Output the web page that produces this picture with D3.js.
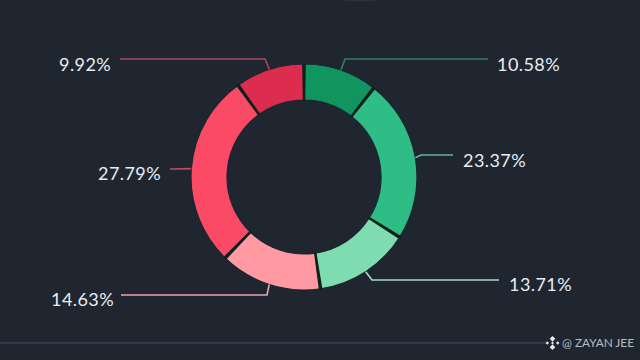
<!DOCTYPE html>
<html>
<head>
<meta charset="utf-8">
<script src="https://cdn.jsdelivr.net/npm/d3@7"></script>
<style>
  html, body { margin: 0; padding: 0; background: #1f2630; }
  svg { display: block; }
</style>
</head>
<body>
<div id="chart"></div>
<script>
const labels = ["10.58%", "23.37%", "13.71%", "14.63%", "27.79%", "9.92%"];
const values = [10.58, 23.37, 13.71, 14.63, 27.79, 9.92];
const colors = ["#10955f", "#2ebd85", "#7fdcb0", "#ff9aa2", "#fb4a65", "#dc2d4e"];
const lineColors = ["#2f8068", "#5fb597", "#a5dcc4", "#eba4aa", "#c9485f", "#b2465c"];

// where each leader line goes after leaving the ring
const elbowX = [345, 421, 372, 267, 172, 265];
const elbowY = [59, 155, 280, 295, 169, 59];
const lineEndX = [488, 453, 499, 121, 170, 120];
const labelX = [497, 463, 509, 51, 98, 59];
const labelY = [71, 167, 291, 306, 180, 71];

const width = 640, height = 360;
const cx = 304, cy = 177, outer = 113, inner = 77;

const svg = d3.select("#chart").append("svg")
  .attr("width", width)
  .attr("height", height);

svg.append("rect")
  .attr("width", width)
  .attr("height", height)
  .attr("fill", "#1f2630");

// faint glow cut off at the top edge
svg.append("ellipse")
  .attr("cx", 360).attr("cy", -1)
  .attr("rx", 20).attr("ry", 2.5)
  .attr("fill", "#2e343e");

// rule along the bottom
svg.append("line")
  .attr("x1", 0).attr("x2", 546)
  .attr("y1", 343).attr("y2", 343)
  .attr("stroke", "#393f4a")
  .attr("stroke-width", 1.4);

const pie = d3.pie().sort(null)(values);
const arc = d3.arc().innerRadius(inner).outerRadius(outer);
const anchorArc = d3.arc().innerRadius(outer).outerRadius(outer);

const g = svg.append("g").attr("transform", `translate(${cx},${cy})`);

g.selectAll("path.slice")
  .data(pie)
  .enter()
  .append("path")
  .attr("class", "slice")
  .attr("d", arc)
  .attr("fill", (d, i) => colors[i])
  .attr("stroke", "#1a2630")
  .attr("stroke-width", 1.2);

// dark gaps between slices
const gap = d3.arc().innerRadius(inner - 1).outerRadius(outer + 1);
g.selectAll("path.gap")
  .data(pie)
  .enter()
  .append("path")
  .attr("class", "gap")
  .attr("d", (d) => gap({ startAngle: d.startAngle - 0.016, endAngle: d.startAngle + 0.016 }))
  .attr("fill", "#10201f");

const line = d3.line();

svg.append("g")
  .selectAll("path")
  .data(pie)
  .enter()
  .append("path")
  .attr("d", (d, i) => {
    const p = anchorArc.centroid(d);
    return line([
      [p[0] + cx, p[1] + cy],
      [elbowX[i], elbowY[i]],
      [lineEndX[i], elbowY[i]],
    ]);
  })
  .attr("fill", "none")
  .attr("stroke", (d, i) => lineColors[i])
  .attr("stroke-width", 1.6);

svg.append("g")
  .selectAll("text")
  .data(labels)
  .enter()
  .append("text")
  .attr("x", (d, i) => labelX[i])
  .attr("y", (d, i) => labelY[i])
  .attr("fill", "#e9ecf0")
  .attr("font-family", "Lato, sans-serif")
  .attr("font-size", 18)
  .attr("letter-spacing", 0.45)
  .text((d) => d);

// watermark
const mark = svg.append("g").attr("transform", "translate(552.5,343)").attr("fill", "#e6e8ea");
const diamonds = [[0, -4.2, 4], [5.2, 0, 2.4], [-5.2, 0, 2.4], [0, 4.2, 4], [0, 0, 2]];
mark.selectAll("rect")
  .data(diamonds)
  .enter()
  .append("rect")
  .attr("x", (d) => d[0] - d[2] / 2)
  .attr("y", (d) => d[1] - d[2] / 2)
  .attr("width", (d) => d[2])
  .attr("height", (d) => d[2])
  .attr("transform", (d) => `rotate(45 ${d[0]} ${d[1]})`);

svg.append("text")
  .attr("x", 562)
  .attr("y", 347)
  .attr("fill", "#b9bdc2")
  .attr("font-family", "Lato, sans-serif")
  .attr("font-size", 11.8)
  .text("@ ZAYAN JEE");
</script>
</body>
</html>
